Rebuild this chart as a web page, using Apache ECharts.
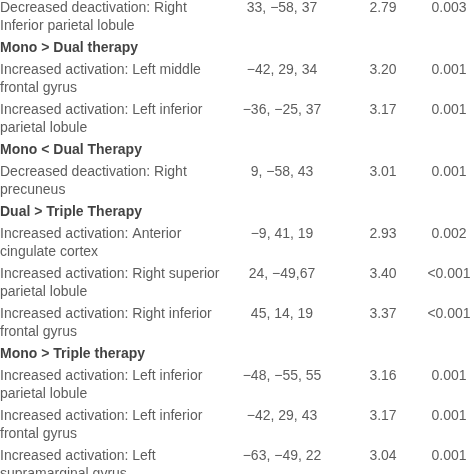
<!DOCTYPE html>
<html>
<head>
<meta charset="utf-8">
<script src="https://cdn.jsdelivr.net/npm/echarts@6/dist/echarts.min.js"></script>
<style>html,body{margin:0;padding:0;background:#fff}#c{width:474px;height:474px}</style>
</head>
<body>
<div id="c"></div>
<script>
// one entry per table row; headers have no values
const regions = [
    ['Decreased deactivation: Right', 'Inferior parietal lobule'],
    ['Mono > Dual therapy'],
    ['Increased activation: Left middle', 'frontal gyrus'],
    ['Increased activation: Left inferior', 'parietal lobule'],
    ['Mono < Dual Therapy'],
    ['Decreased deactivation: Right', 'precuneus'],
    ['Dual > Triple Therapy'],
    ['Increased activation: Anterior', 'cingulate cortex'],
    ['Increased activation: Right superior', 'parietal lobule'],
    ['Increased activation: Right inferior', 'frontal gyrus'],
    ['Mono > Triple therapy'],
    ['Increased activation: Left inferior', 'parietal lobule'],
    ['Increased activation: Left inferior', 'frontal gyrus'],
    ['Increased activation: Left', 'supramarginal gyrus']
];
const coords = ['33, \u221258, 37', null, '\u221242, 29, 34', '\u221236, \u221225, 37', null, '9, \u221258, 43', null,
    '\u22129, 41, 19', '24, \u221249,67', '45, 14, 19', null, '\u221248, \u221255, 55', '\u221242, 29, 43', '\u221263, \u221249, 22'];
const tValues = ['2.79', null, '3.20', '3.17', null, '3.01', null, '2.93', '3.40', '3.37', null, '3.16', '3.17', '3.04'];
const pValues = ['0.003', null, '0.001', '0.001', null, '0.001', null, '0.002', '<0.001', '<0.001', null, '0.001', '0.001', '0.001'];

const colX = [0, 282, 383, 449];
const cells = [];
let y = 8;
regions.forEach((lines, i) => {
    const header = coords[i] == null;
    lines.forEach((txt, j) => cells.push({ value: [colX[0], y + j * 18, txt, header ? 'h' : 'l'] }));
    if (!header) {
        cells.push({ value: [colX[1], y, coords[i], 'c'] });
        cells.push({ value: [colX[2], y, tValues[i], 'c'] });
        cells.push({ value: [colX[3], y, pValues[i], 'c'] });
    }
    y += (lines.length - 1) * 18 + 22;
});

const chart = echarts.init(document.getElementById('c'));
chart.setOption({
    animation: false,
    grid: { left: 0, right: 0, top: 0, bottom: 0 },
    xAxis: { type: 'value', min: 0, max: 474, show: false },
    yAxis: { type: 'value', min: 0, max: 474, inverse: true, show: false },
    series: [{
        type: 'scatter',
        symbolSize: 0,
        data: cells.map(c => ({
            value: c.value,
            label: {
                show: true, position: 'inside',
                formatter: p => p.value[2],
                align: c.value[3] === 'c' ? 'center' : 'left',
                verticalAlign: 'middle',
                fontFamily: 'Liberation Sans, Arial, sans-serif',
                fontSize: 14,
                fontWeight: c.value[3] === 'h' ? 'bold' : 'normal',
                color: c.value[3] === 'h' ? '#111' : '#333'
            }
        }))
    }]
});
</script>
</body>
</html>
